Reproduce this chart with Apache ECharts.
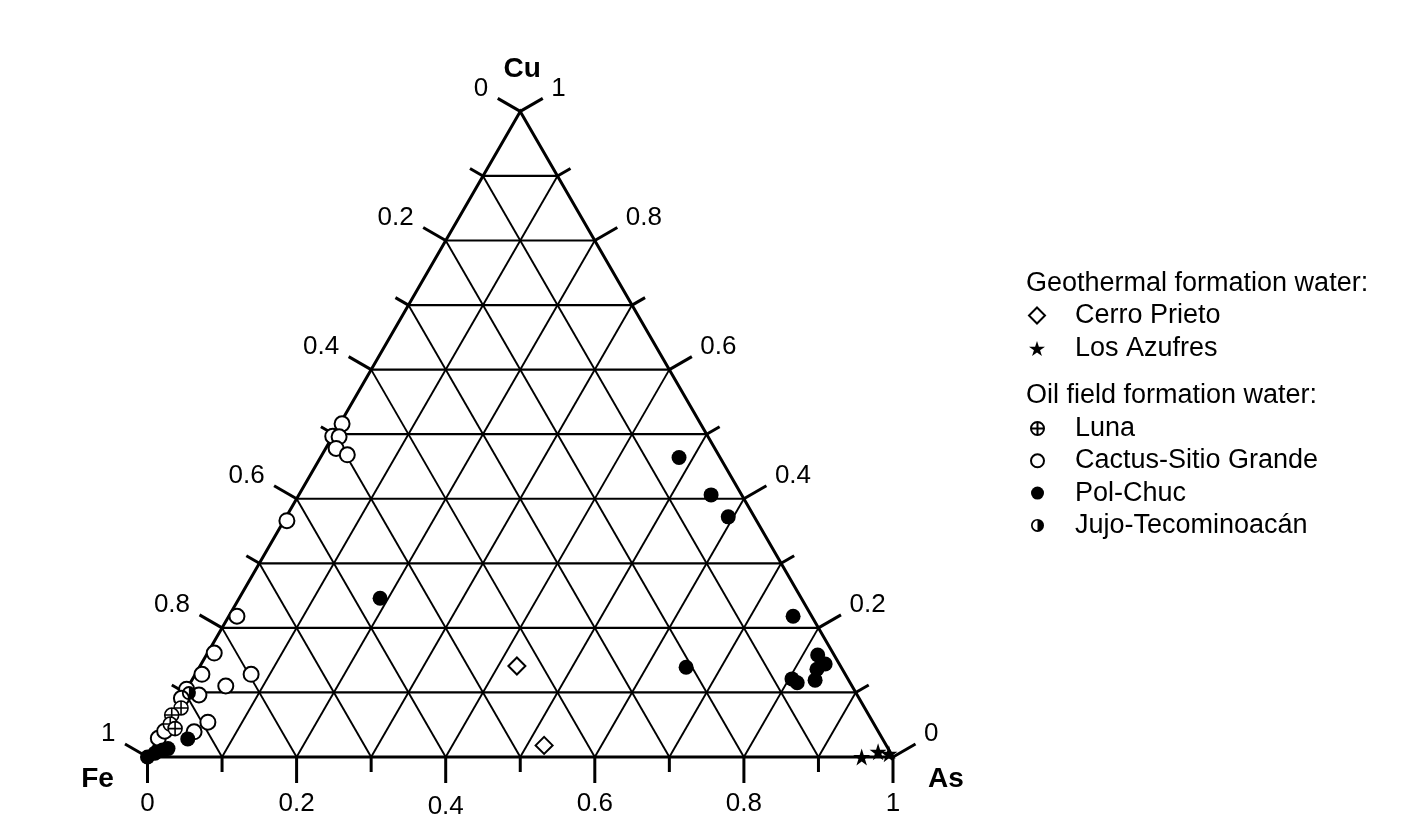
<!DOCTYPE html>
<html>
<head>
<meta charset="utf-8">
<script src="https://cdn.jsdelivr.net/npm/echarts@6/dist/echarts.min.js"></script>
<style>html,body{margin:0;padding:0;background:#fff;}#chart{width:1416px;height:827px;}</style>
</head>
<body>
<div id="chart"></div>
<script>
// ---- data: [Fe, As, Cu] fractions ----
const cerroPrieto = [[0.434,0.425,0.141],[0.459,0.523,0.018]];
const losAzufres = [[0.042,0.958,0.000],[0.016,0.976,0.008],[0.003,0.992,0.005]];
const luna = [[0.917,0.007,0.076],[0.935,0.000,0.065],[0.944,0.005,0.051],[0.941,0.015,0.044]];
const cactus = [
  [0.481,0.003,0.516],[0.503,0.000,0.497],[0.495,0.009,0.496],[0.508,0.014,0.478],
  [0.498,0.034,0.468],[0.630,0.004,0.366],[0.771,0.011,0.218],[0.830,0.009,0.161],
  [0.863,0.009,0.128],[0.797,0.075,0.128],[0.840,0.050,0.110],[0.895,0.000,0.105],
  [0.883,0.021,0.096],[0.909,0.000,0.091],[0.892,0.054,0.054],[0.918,0.043,0.039],
  [0.971,0.000,0.029],[0.957,0.003,0.040]
];
const polChuc = [
  [0.055,0.481,0.464],[0.041,0.553,0.406],[0.035,0.593,0.372],[0.565,0.189,0.246],
  [0.025,0.757,0.218],[0.208,0.653,0.139],[0.022,0.820,0.158],[0.019,0.837,0.144],
  [0.034,0.830,0.136],[0.045,0.836,0.119],[0.075,0.804,0.121],[0.071,0.814,0.115],
  [0.932,0.040,0.028],[1.000,0.000,0.000],[0.987,0.007,0.006],[0.974,0.015,0.011],
  [0.966,0.021,0.013]
];
const jujo = [[0.895,0.006,0.099]];

const gridSteps = [0.1,0.2,0.3,0.4,0.5,0.6,0.7,0.8,0.9];
const tickValues = [0,0.1,0.2,0.3,0.4,0.5,0.6,0.7,0.8,0.9,1];
const labelValues = [0,0.2,0.4,0.6,0.8,1];
const labelText = ['0','0.2','0.4','0.6','0.8','1'];
const vertexNames = ['Fe','As','Cu'];
const groupTitles = ['Geothermal formation water:','Oil field formation water:'];
const seriesNames = ['Cerro Prieto','Los Azufres','Luna','Cactus-Sitio Grande','Pol-Chuc','Jujo-Tecominoacán'];

// ---- ternary -> cartesian (x = As + Cu/2, y = Cu) ----
function tern(p){ return [p[1] + p[2]/2, p[2]]; }

const FONT = '"Liberation Sans", Arial, Helvetica, sans-serif';
const STAR = 'path://M50 0 L61.8 35.4 L100 35.4 L69.1 57.3 L80.9 92.7 L50 70.8 L19.1 92.7 L30.9 57.3 L0 35.4 L38.2 35.4 Z';
const CROSSCIRCLE = 'path://M50 0 A50 50 0 1 1 50 100 A50 50 0 1 1 50 0 Z M0 50 L100 50 M50 0 L50 100';
const HALFCIRCLE = 'path://M50 0 A50 50 0 1 1 50 100 A50 50 0 1 1 50 0 Z M50 13 A37 37 0 1 0 50 87 A37 37 0 1 0 50 13 Z M50 13 A37 37 0 0 1 50 87 Z';

function frameRender(params, api){
  const ch = [];
  const P = (a, c) => api.coord([a + c/2, c]);
  const line = (p1, p2, w) => ch.push({type:'line', shape:{x1:p1[0],y1:p1[1],x2:p2[0],y2:p2[1]}, style:{stroke:'#000', lineWidth:w}});
  gridSteps.forEach(v => {
    line(P(0, v), P(1 - v, v), 2.2);           // Cu constant
    line(P(v, 0), P(v, 1 - v), 1.9);           // As constant
    line(P(1 - v, 0), P(0, 1 - v), 1.9);       // Fe constant
  });
  const A = P(0,0), B = P(1,0), C = P(0,1);
  ch.push({type:'polygon', shape:{points:[A,B,C]}, style:{stroke:'#000', fill:null, lineWidth:3, lineJoin:'miter'}});
  const nL = [-0.866,-0.5], nR = [0.866,-0.5];
  tickValues.forEach(v => {
    const major = labelValues.some(m => Math.abs(m - v) < 1e-9);
    const len = major ? 26 : 15;
    const pl = P(0, 1 - v);
    line(pl, [pl[0] + nL[0]*len, pl[1] + nL[1]*len], 3);
    const pr = P(1 - v, v);
    line(pr, [pr[0] + nR[0]*len, pr[1] + nR[1]*len], 3);
    const pb = P(v, 0);
    line(pb, [pb[0], pb[1] + len], 3);
  });
  const txt = (x, y, t, align, extra) => ch.push({type:'text', x:x, y:y, style:Object.assign({text:t, fill:'#000', font:'26px ' + FONT, align:align, verticalAlign:'middle'}, extra||{})});
  labelValues.forEach((v, i) => {
    const pl = P(0, 1 - v);
    txt(pl[0] - 32, pl[1] - 23, labelText[i], 'right');
    const pr = P(1 - v, v);
    txt(pr[0] + 31, pr[1] - 23, labelText[i], 'left');
    const pb = P(v, 0);
    txt(pb[0], pb[1] + 47 + (i === 2 ? 3 : 0), labelText[i], 'center');
  });
  const bold = {font:'bold 28px ' + FONT};
  txt(A[0] - 50, A[1] + 22, vertexNames[0], 'center', bold);
  txt(B[0] + 53, B[1] + 22, vertexNames[1], 'center', bold);
  txt(C[0] + 2, C[1] - 42, vertexNames[2], 'center', bold);
  return {type:'group', children:ch};
}

const hollow = {color:'#fff', borderColor:'#000', borderWidth:2, opacity:1};
const solid = {color:'#000', borderWidth:0, opacity:1};

const chart = echarts.init(document.getElementById('chart'), null, {renderer:'canvas'});
chart.setOption({
  animation:false,
  backgroundColor:'#fff',
  grid:{left:147.5, top:111.4, width:745.5, height:645.6},
  xAxis:{type:'value', min:0, max:1, show:false},
  yAxis:{type:'value', min:0, max:1, show:false},
  graphic:[
    {type:'text', left:1026, top:270, style:{text:groupTitles[0], font:'27px ' + FONT, fill:'#000'}},
    {type:'text', left:1026, top:382, style:{text:groupTitles[1], font:'27px ' + FONT, fill:'#000'}}
  ],
  legend:[
    {data:[seriesNames[0], seriesNames[1]], orient:'vertical', left:1028, top:302, padding:0, itemGap:6,
     itemWidth:16, itemHeight:16, selectedMode:false,
     formatter: n => '{s|}{t|' + n + '}',
     textStyle:{rich:{s:{width:25}, t:{fontSize:27, fontFamily:FONT, color:'#000', lineHeight:26}}}},
    {data:[seriesNames[2], seriesNames[3], seriesNames[4], seriesNames[5]], orient:'vertical', left:1030, top:415, padding:0, itemGap:5.3,
     itemWidth:13, itemHeight:13, selectedMode:false,
     formatter: n => '{s|}{t|' + n + '}',
     textStyle:{rich:{s:{width:26}, t:{fontSize:27, fontFamily:FONT, color:'#000', lineHeight:26}}}}
  ],
  series:[
    {type:'custom', name:'frame', silent:true, renderItem:frameRender, data:[[0.5,0.5]], z:1},
    {type:'scatter', name:seriesNames[0], data:cerroPrieto.map(tern), symbol:'diamond', symbolSize:[17,17], itemStyle:hollow, z:3},
    {type:'scatter', name:seriesNames[1], data:losAzufres.map(tern), symbol:STAR, symbolSize:17, itemStyle:solid, z:3},
    {type:'scatter', name:seriesNames[3], data:cactus.map(tern), symbol:'circle', symbolSize:15, itemStyle:hollow, z:3},
    {type:'scatter', name:seriesNames[2], data:luna.map(tern), symbol:CROSSCIRCLE, symbolSize:14, itemStyle:{color:'#fff', borderColor:'#000', borderWidth:1.6, opacity:1}, z:4},
    {type:'scatter', name:seriesNames[4], data:polChuc.map(tern), symbol:'circle', symbolSize:15, itemStyle:solid, z:4},
    {type:'scatter', name:seriesNames[5], data:jujo.map(tern), symbol:HALFCIRCLE, symbolSize:14, itemStyle:solid, z:5}
  ]
});
</script>
</body>
</html>
